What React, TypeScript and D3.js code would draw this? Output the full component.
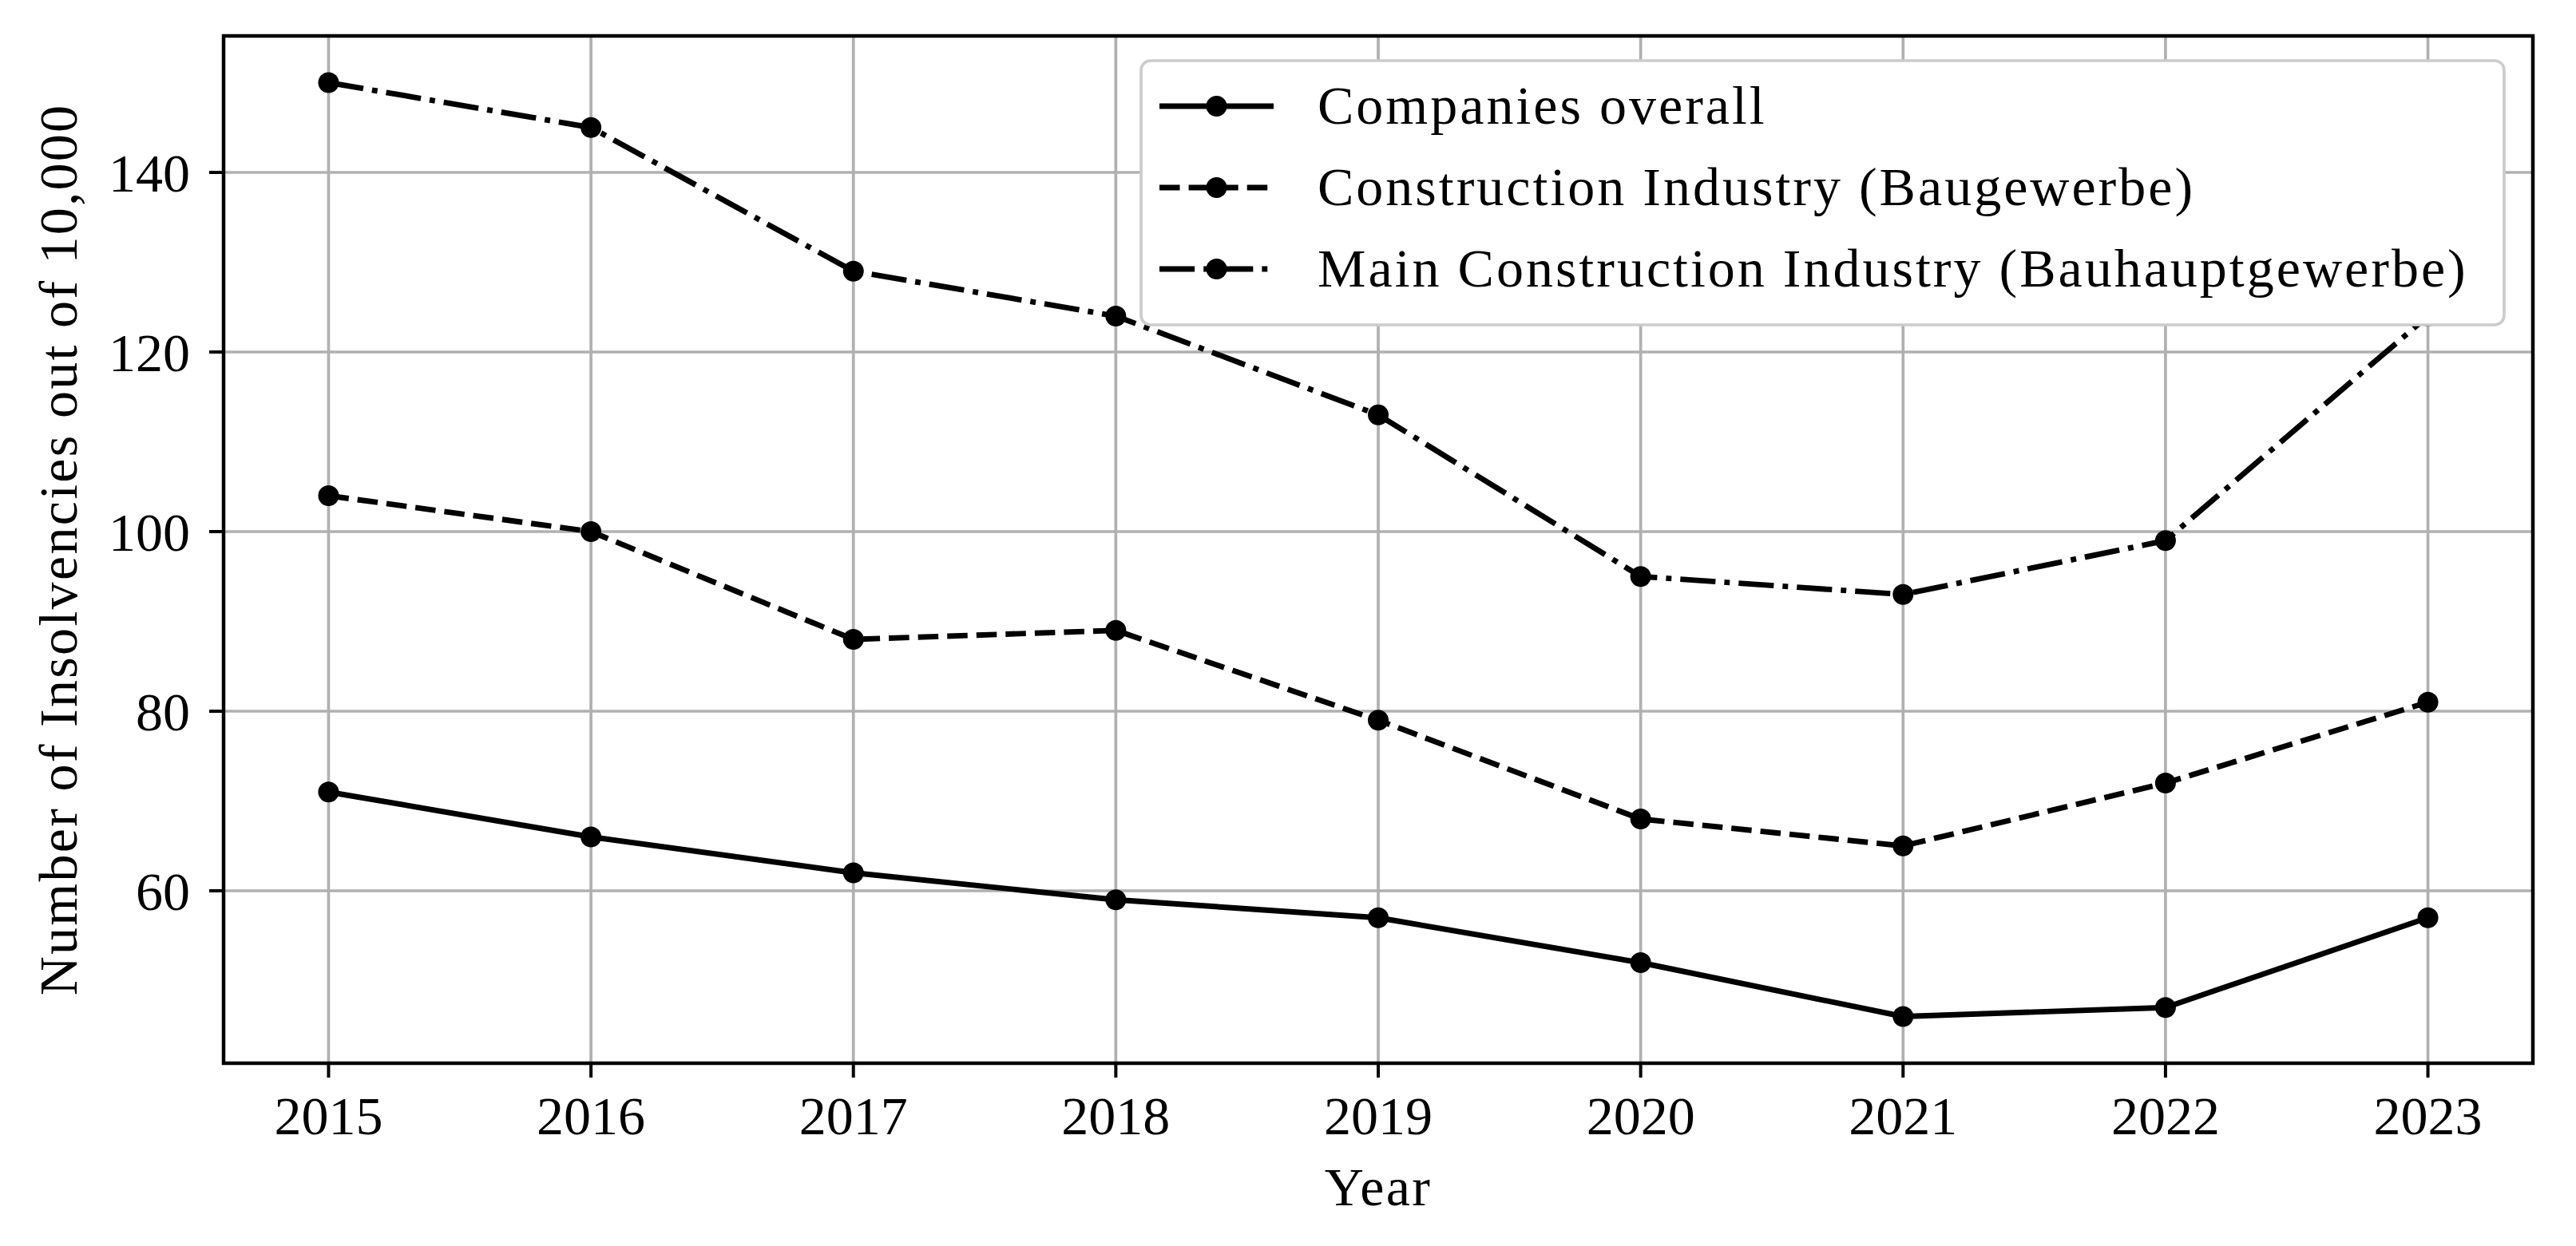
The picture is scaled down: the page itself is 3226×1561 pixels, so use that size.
import React from "react";
import * as d3 from "d3";

const years = [2015, 2016, 2017, 2018, 2019, 2020, 2021, 2022, 2023];
const companiesOverall = [71, 66, 62, 59, 57, 52, 46, 47, 57];
const constructionIndustry = [104, 100, 88, 89, 79, 68, 65, 72, 81];
const mainConstruction = [150, 145, 129, 124, 113, 95, 93, 99, 124];
const yTicks = [60, 80, 100, 120, 140];
const seriesNames = [
  "Companies overall",
  "Construction Industry (Baugewerbe)",
  "Main Construction Industry (Bauhauptgewerbe)",
];

const W = 3226;
const H = 1561;
const L = 280, R = 3172, T = 45, B = 1332;
const LW = 6.9;
const dashes = ["none", `${3.7 * LW},${1.6 * LW}`, `${6.4 * LW},${1.6 * LW},${1 * LW},${1.6 * LW}`];
const FONT = "'Liberation Serif', 'Times New Roman', serif";

export default function App() {
  const allVals = [...companiesOverall, ...constructionIndustry, ...mainConstruction];
  const yMin = d3.min(allVals)!, yMax = d3.max(allVals)!;
  const yPad = (yMax - yMin) * 0.05;
  const xPad = (years[years.length - 1] - years[0]) * 0.05;
  const x = d3.scaleLinear().domain([years[0] - xPad, years[years.length - 1] + xPad]).range([L, R]);
  const y = d3.scaleLinear().domain([yMin - yPad, yMax + yPad]).range([B, T]);
  const series = [companiesOverall, constructionIndustry, mainConstruction];
  const line = d3.line<number>().x((_, i) => x(years[i])).y((d) => y(d));

  const legX = 1429, legY = 76, legW = 1707, legH = 331;
  const rowBase = [155, 257, 359];
  const handleX0 = 1452, handleX1 = 1595, textX = 1650;

  return (
    <svg width={W} height={H} style={{ position: "absolute", left: 0, top: 0, background: "#fff" }} fontFamily={FONT}>
      <rect x={0} y={0} width={W} height={H} fill="#fff" />
      {/* grid */}
      {years.map((yr) => (
        <line key={"gx" + yr} x1={x(yr)} x2={x(yr)} y1={T} y2={B} stroke="#b0b0b0" strokeWidth={3.7} />
      ))}
      {yTicks.map((v) => (
        <line key={"gy" + v} x1={L} x2={R} y1={y(v)} y2={y(v)} stroke="#b0b0b0" strokeWidth={3.7} />
      ))}
      {/* series */}
      {series.map((s, si) => (
        <g key={"s" + si}>
          <path d={line(s) || ""} fill="none" stroke="#000" strokeWidth={LW} strokeDasharray={dashes[si]} strokeLinejoin="round" />
          {s.map((v, i) => (
            <circle key={i} cx={x(years[i])} cy={y(v)} r={13} fill="#000" />
          ))}
        </g>
      ))}
      {/* spines */}
      <rect x={L} y={T} width={R - L} height={B - T} fill="none" stroke="#000" strokeWidth={4.5} />
      {/* x ticks */}
      {years.map((yr) => (
        <g key={"xt" + yr}>
          <line x1={x(yr)} x2={x(yr)} y1={B} y2={B + 18} stroke="#000" strokeWidth={4} />
          <text x={x(yr)} y={1421} textAnchor="middle" fontSize={68}>{yr}</text>
        </g>
      ))}
      {/* y ticks */}
      {yTicks.map((v) => (
        <g key={"yt" + v}>
          <line x1={L - 18} x2={L} y1={y(v)} y2={y(v)} stroke="#000" strokeWidth={4} />
          <text x={238} y={y(v) + 24} textAnchor="end" fontSize={68}>{v}</text>
        </g>
      ))}
      {/* axis labels */}
      <text x={1726} y={1510} textAnchor="middle" fontSize={68} letterSpacing={2.3}>Year</text>
      <text transform={`translate(96, ${(T + B) / 2}) rotate(-90)`} textAnchor="middle" fontSize={68} letterSpacing={2.3}>
        Number of Insolvencies out of 10,000
      </text>
      {/* legend */}
      <rect x={legX} y={legY} width={legW} height={legH} rx={12} ry={12} fill="#fff" stroke="#cccccc" strokeWidth={3.7} />
      {seriesNames.map((name, i) => {
        const cy = rowBase[i] - 22;
        return (
          <g key={"lg" + i}>
            <line x1={handleX0} x2={handleX1} y1={cy} y2={cy} stroke="#000" strokeWidth={LW} strokeDasharray={dashes[i]} />
            <circle cx={(handleX0 + handleX1) / 2} cy={cy} r={13} fill="#000" />
            <text x={textX} y={rowBase[i]} fontSize={68} letterSpacing={3}>{name}</text>
          </g>
        );
      })}
    </svg>
  );
}
